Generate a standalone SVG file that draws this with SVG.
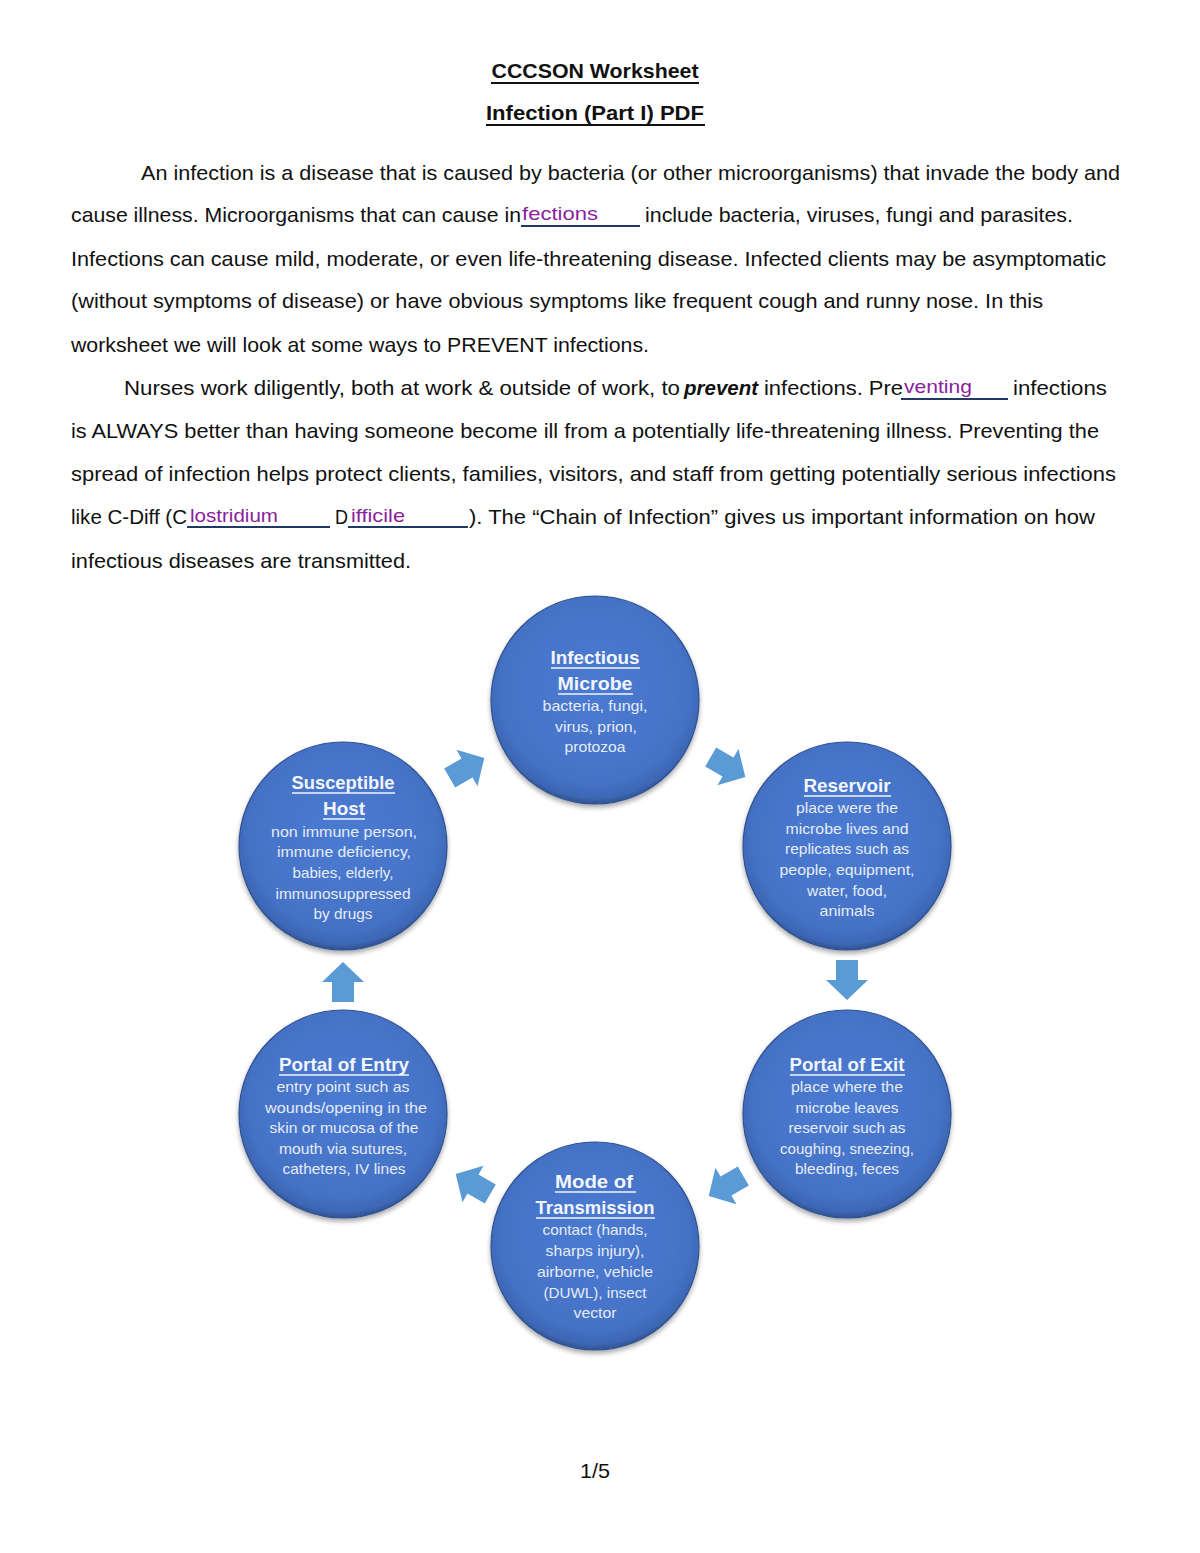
<svg xmlns="http://www.w3.org/2000/svg" width="1200" height="1553" viewBox="0 0 1200 1553">
<style>
.t{font-family:"Liberation Sans",Arial,sans-serif;font-size:21px;fill:#111}
.h{font-family:"Liberation Sans",Arial,sans-serif;font-size:21px;font-weight:bold;fill:#111}
.p{font-family:"Liberation Sans",Arial,sans-serif;font-size:19px;fill:#8A1E9C}
.ul{stroke:#1F3864;stroke-width:2.2}
.tu{stroke:#111;stroke-width:2}
.ct{font-family:"Liberation Sans",Arial,sans-serif;font-size:19px;font-weight:bold;fill:#F2F5FB;text-anchor:middle}
.cb{font-family:"Liberation Sans",Arial,sans-serif;font-size:15px;fill:#E6ECF7;text-anchor:middle}
.cu{stroke:#F2F5FB;stroke-width:1.6}
.node circle{fill:url(#cg);stroke:#2F528F;stroke-width:1.2}
.arr{fill:#5B9BD5}
</style>
<defs>
<radialGradient id="cg" cx="50%" cy="45%" r="55%">
<stop offset="0" stop-color="#4A7BD2"/>
<stop offset="0.82" stop-color="#4572C6"/>
<stop offset="0.95" stop-color="#3D66B4"/>
<stop offset="1" stop-color="#2F528F"/>
</radialGradient>
<filter id="sh" x="-20%" y="-20%" width="140%" height="140%">
<feGaussianBlur in="SourceAlpha" stdDeviation="2.5"/>
<feOffset dy="3"/>
<feComponentTransfer><feFuncA type="linear" slope="0.35"/></feComponentTransfer>
<feMerge><feMergeNode/><feMergeNode in="SourceGraphic"/></feMerge>
</filter>
<path id="ar" d="M-11,-20 H11 V0 H21 L0,20 L-21,0 H-11 Z"/>
</defs>
<rect width="1200" height="1553" fill="#ffffff"/>

<g id="header">
<text class="h" x="595" y="78" text-anchor="middle" textLength="207" lengthAdjust="spacingAndGlyphs">CCCSON Worksheet</text>
<line class="tu" x1="491" y1="83" x2="699" y2="83"/>
<text class="h" x="595" y="120" text-anchor="middle" textLength="218" lengthAdjust="spacingAndGlyphs">Infection (Part I) PDF</text>
<line class="tu" x1="486" y1="125" x2="705" y2="125"/>
</g>

<g id="body">
<text class="t" x="141" y="180" textLength="979" lengthAdjust="spacingAndGlyphs">An infection is a disease that is caused by bacteria (or other microorganisms) that invade the body and</text>
<text class="t" x="71" y="222" textLength="450" lengthAdjust="spacingAndGlyphs">cause illness. Microorganisms that can cause in</text>
<text class="p" x="522" y="220" textLength="76" lengthAdjust="spacingAndGlyphs">fections</text>
<line class="ul" x1="521" y1="226" x2="640" y2="226"/>
<text class="t" x="645" y="222" textLength="428" lengthAdjust="spacingAndGlyphs">include bacteria, viruses, fungi and parasites.</text>
<text class="t" x="71" y="266" textLength="1035" lengthAdjust="spacingAndGlyphs">Infections can cause mild, moderate, or even life-threatening disease. Infected clients may be asymptomatic</text>
<text class="t" x="71" y="308" textLength="972" lengthAdjust="spacingAndGlyphs">(without symptoms of disease) or have obvious symptoms like frequent cough and runny nose. In this</text>
<text class="t" x="71" y="352" textLength="578" lengthAdjust="spacingAndGlyphs">worksheet we will look at some ways to PREVENT infections.</text>
<text class="t" x="124" y="395" textLength="556" lengthAdjust="spacingAndGlyphs">Nurses work diligently, both at work &amp; outside of work, to</text>
<text class="h" x="684" y="395" font-style="italic" textLength="74" lengthAdjust="spacingAndGlyphs">prevent</text>
<text class="t" x="764" y="395" textLength="139" lengthAdjust="spacingAndGlyphs">infections. Pre</text>
<text class="p" x="904" y="393" textLength="68" lengthAdjust="spacingAndGlyphs">venting</text>
<line class="ul" x1="901" y1="399" x2="1008" y2="399"/>
<text class="t" x="1013" y="395" textLength="94" lengthAdjust="spacingAndGlyphs">infections</text>
<text class="t" x="71" y="438" textLength="1028" lengthAdjust="spacingAndGlyphs">is ALWAYS better than having someone become ill from a potentially life-threatening illness. Preventing the</text>
<text class="t" x="71" y="481" textLength="1045" lengthAdjust="spacingAndGlyphs">spread of infection helps protect clients, families, visitors, and staff from getting potentially serious infections</text>
<text class="t" x="71" y="524" textLength="116" lengthAdjust="spacingAndGlyphs">like C-Diff (C</text>
<text class="p" x="190" y="522" textLength="88" lengthAdjust="spacingAndGlyphs">lostridium</text>
<line class="ul" x1="187" y1="527" x2="330" y2="527"/>
<text class="t" x="335" y="524" textLength="13" lengthAdjust="spacingAndGlyphs">D</text>
<text class="p" x="351" y="522" textLength="54" lengthAdjust="spacingAndGlyphs">ifficile</text>
<line class="ul" x1="348" y1="527" x2="468" y2="527"/>
<text class="t" x="469" y="524" textLength="626" lengthAdjust="spacingAndGlyphs">). The “Chain of Infection” gives us important information on how</text>
<text class="t" x="71" y="568" textLength="340" lengthAdjust="spacingAndGlyphs">infectious diseases are transmitted.</text>
</g>

<g id="connectors">
<use href="#ar" class="arr" transform="translate(467,768) rotate(-120)"/>
<use href="#ar" class="arr" transform="translate(728,767) rotate(-60)"/>
<use href="#ar" class="arr" transform="translate(847,980)"/>
<use href="#ar" class="arr" transform="translate(726,1186) rotate(60)"/>
<use href="#ar" class="arr" transform="translate(473,1184) rotate(120)"/>
<use href="#ar" class="arr" transform="translate(343,982) rotate(180)"/>
</g>

<g id="node-microbe" class="node">
<circle cx="595" cy="700" r="104" filter="url(#sh)"/>
<text class="ct" x="595" y="664" textLength="89" lengthAdjust="spacingAndGlyphs">Infectious</text>
<line class="cu" x1="551" y1="668" x2="640" y2="668"/>
<text class="ct" x="595" y="690" textLength="75" lengthAdjust="spacingAndGlyphs">Microbe</text>
<line class="cu" x1="558" y1="694" x2="633" y2="694"/>
<text class="cb" x="595" y="711" textLength="105" lengthAdjust="spacingAndGlyphs">bacteria, fungi,</text>
<text class="cb" x="596" y="732" textLength="82" lengthAdjust="spacingAndGlyphs">virus, prion,</text>
<text class="cb" x="595" y="752" textLength="61" lengthAdjust="spacingAndGlyphs">protozoa</text>
</g>

<g id="node-reservoir" class="node">
<circle cx="847" cy="846" r="104" filter="url(#sh)"/>
<text class="ct" x="847" y="792" textLength="87" lengthAdjust="spacingAndGlyphs">Reservoir</text>
<line class="cu" x1="804" y1="796" x2="891" y2="796"/>
<text class="cb" x="847" y="813" textLength="102" lengthAdjust="spacingAndGlyphs">place were the</text>
<text class="cb" x="847" y="834" textLength="123" lengthAdjust="spacingAndGlyphs">microbe lives and</text>
<text class="cb" x="847" y="854" textLength="124" lengthAdjust="spacingAndGlyphs">replicates such as</text>
<text class="cb" x="847" y="875" textLength="135" lengthAdjust="spacingAndGlyphs">people, equipment,</text>
<text class="cb" x="847" y="896" textLength="80" lengthAdjust="spacingAndGlyphs">water, food,</text>
<text class="cb" x="847" y="916" textLength="55" lengthAdjust="spacingAndGlyphs">animals</text>
</g>

<g id="node-exit" class="node">
<circle cx="847" cy="1114" r="104" filter="url(#sh)"/>
<text class="ct" x="847" y="1071" textLength="115" lengthAdjust="spacingAndGlyphs">Portal of Exit</text>
<line class="cu" x1="790" y1="1075" x2="905" y2="1075"/>
<text class="cb" x="847" y="1092" textLength="112" lengthAdjust="spacingAndGlyphs">place where the</text>
<text class="cb" x="847" y="1113" textLength="103" lengthAdjust="spacingAndGlyphs">microbe leaves</text>
<text class="cb" x="847" y="1133" textLength="117" lengthAdjust="spacingAndGlyphs">reservoir such as</text>
<text class="cb" x="847" y="1154" textLength="134" lengthAdjust="spacingAndGlyphs">coughing, sneezing,</text>
<text class="cb" x="847" y="1174" textLength="104" lengthAdjust="spacingAndGlyphs">bleeding, feces</text>
</g>

<g id="node-transmission" class="node">
<circle cx="595" cy="1246" r="104" filter="url(#sh)"/>
<text class="ct" x="594" y="1188" textLength="78" lengthAdjust="spacingAndGlyphs">Mode of</text>
<line class="cu" x1="555" y1="1192" x2="636" y2="1192"/>
<text class="ct" x="595" y="1214" textLength="119" lengthAdjust="spacingAndGlyphs">Transmission</text>
<line class="cu" x1="536" y1="1218" x2="655" y2="1218"/>
<text class="cb" x="595" y="1235" textLength="105" lengthAdjust="spacingAndGlyphs">contact (hands,</text>
<text class="cb" x="595" y="1256" textLength="99" lengthAdjust="spacingAndGlyphs">sharps injury),</text>
<text class="cb" x="595" y="1277" textLength="116" lengthAdjust="spacingAndGlyphs">airborne, vehicle</text>
<text class="cb" x="595" y="1298" textLength="103" lengthAdjust="spacingAndGlyphs">(DUWL), insect</text>
<text class="cb" x="595" y="1318" textLength="43" lengthAdjust="spacingAndGlyphs">vector</text>
</g>

<g id="node-entry" class="node">
<circle cx="343" cy="1114" r="104" filter="url(#sh)"/>
<text class="ct" x="344" y="1071" textLength="130" lengthAdjust="spacingAndGlyphs">Portal of Entry</text>
<line class="cu" x1="279" y1="1075" x2="409" y2="1075"/>
<text class="cb" x="343" y="1092" textLength="133" lengthAdjust="spacingAndGlyphs">entry point such as</text>
<text class="cb" x="346" y="1113" textLength="162" lengthAdjust="spacingAndGlyphs">wounds/opening in the</text>
<text class="cb" x="344" y="1133" textLength="149" lengthAdjust="spacingAndGlyphs">skin or mucosa of the</text>
<text class="cb" x="343" y="1154" textLength="128" lengthAdjust="spacingAndGlyphs">mouth via sutures,</text>
<text class="cb" x="344" y="1174" textLength="123" lengthAdjust="spacingAndGlyphs">catheters, IV lines</text>
</g>

<g id="node-host" class="node">
<circle cx="343" cy="846" r="104" filter="url(#sh)"/>
<text class="ct" x="343" y="789" textLength="103" lengthAdjust="spacingAndGlyphs">Susceptible</text>
<line class="cu" x1="292" y1="793" x2="395" y2="793"/>
<text class="ct" x="344" y="815" textLength="42" lengthAdjust="spacingAndGlyphs">Host</text>
<line class="cu" x1="323" y1="819" x2="365" y2="819"/>
<text class="cb" x="344" y="837" textLength="146" lengthAdjust="spacingAndGlyphs">non immune person,</text>
<text class="cb" x="344" y="857" textLength="134" lengthAdjust="spacingAndGlyphs">immune deficiency,</text>
<text class="cb" x="343" y="878" textLength="101" lengthAdjust="spacingAndGlyphs">babies, elderly,</text>
<text class="cb" x="343" y="899" textLength="135" lengthAdjust="spacingAndGlyphs">immunosuppressed</text>
<text class="cb" x="343" y="919" textLength="59" lengthAdjust="spacingAndGlyphs">by drugs</text>
</g>

<g id="footer">
<text class="t" x="595" y="1478" text-anchor="middle" font-size="19" textLength="30" lengthAdjust="spacingAndGlyphs">1/5</text>
</g>
</svg>
